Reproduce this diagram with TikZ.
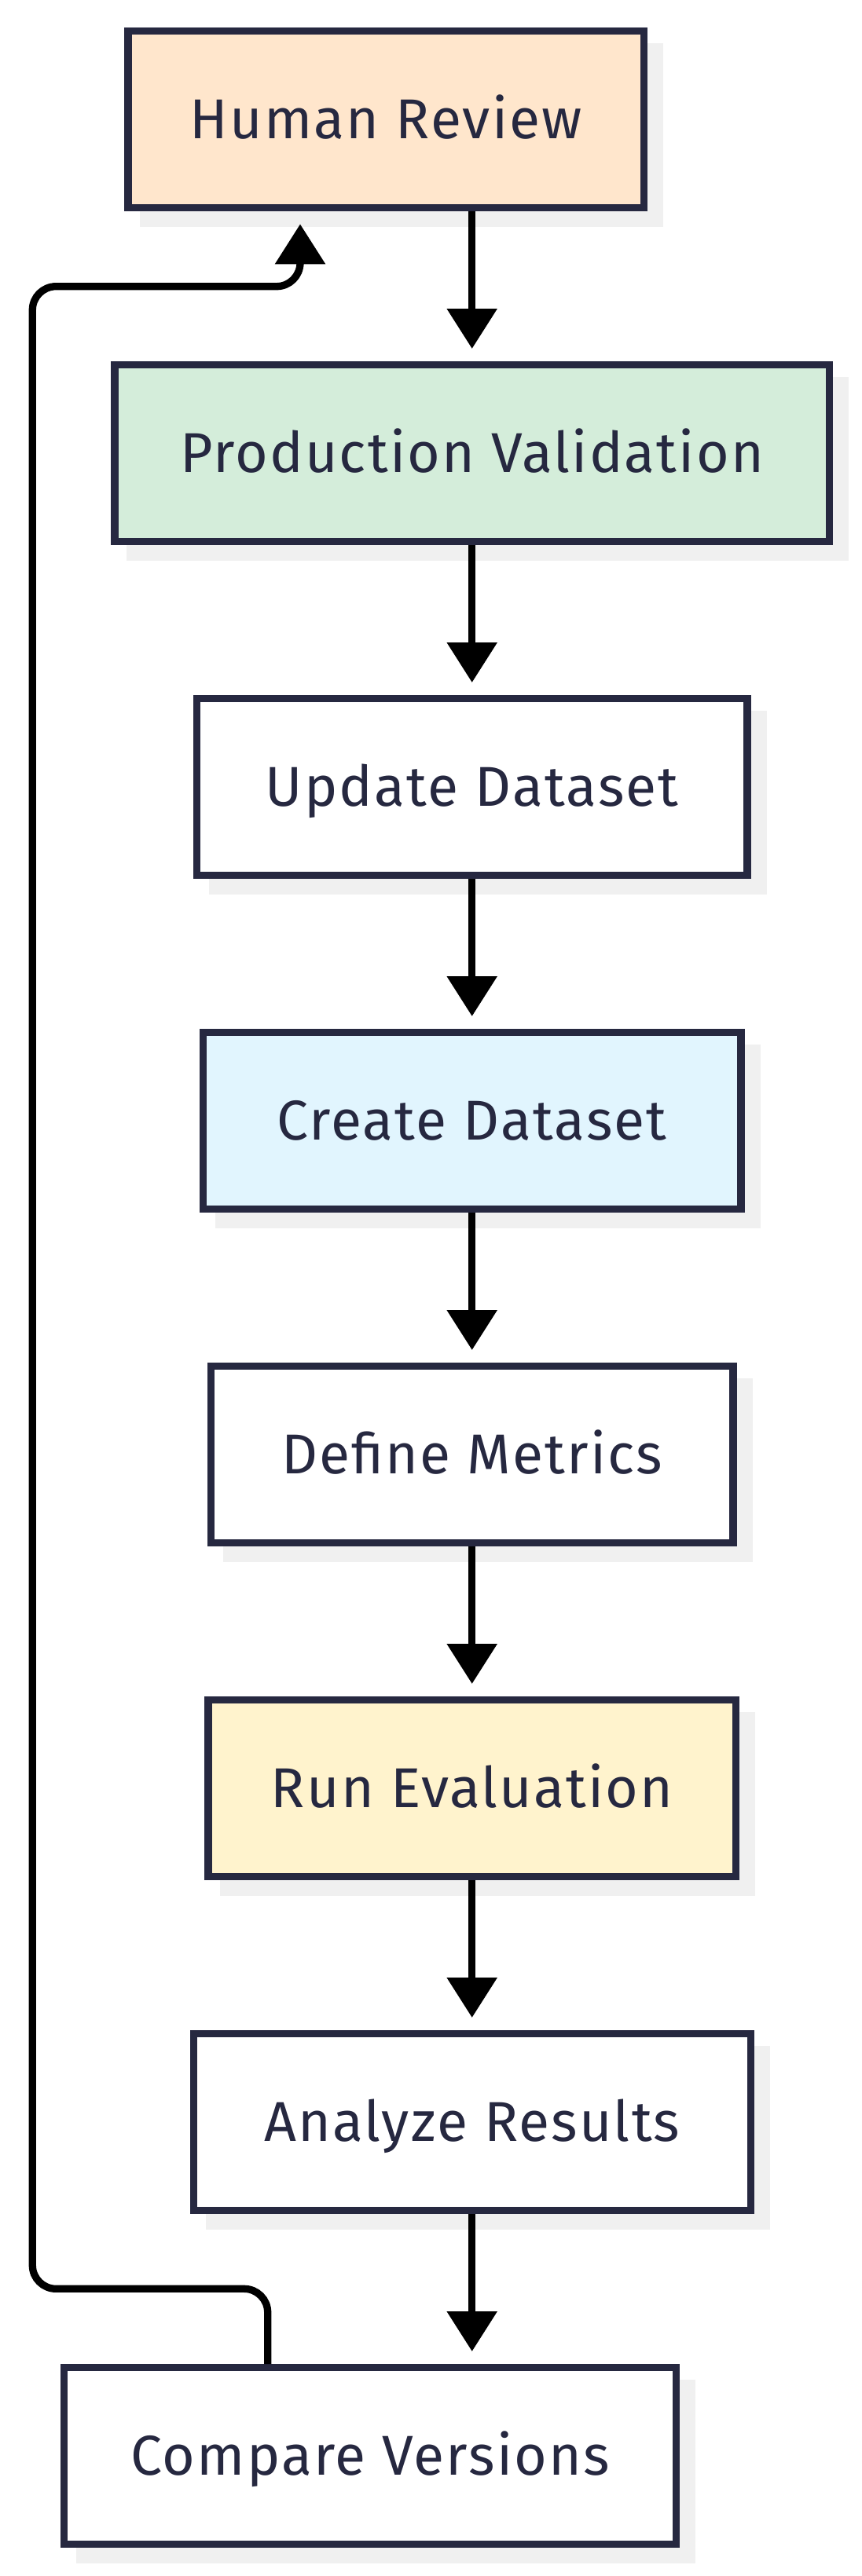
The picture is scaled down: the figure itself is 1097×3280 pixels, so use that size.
\documentclass[tikz,border=0pt]{standalone}
\usepackage{fontspec}
\setmainfont[LetterSpace=3]{Fira Sans}
\usetikzlibrary{arrows.meta,backgrounds}
\definecolor{ink}{HTML}{262840}
\definecolor{shadowgray}{HTML}{F0F0F0}
\definecolor{peach}{HTML}{FFE6CC}
\definecolor{mint}{HTML}{D4EDDA}
\definecolor{sky}{HTML}{E1F5FE}
\definecolor{cream}{HTML}{FFF3CD}
\tikzset{
  stepbox/.style={draw=ink, line width=9.3pt, fill=white, rectangle, inner sep=0pt,
    minimum height=225pt, text=ink, font=\fontsize{71.5}{80}\selectfont,
    text height=49.3pt, text depth=0pt},
  flow/.style={draw=black, line width=9.3pt, -{Triangle[length=51pt,width=62pt]}},
}
\begin{document}
\begin{tikzpicture}[x=1pt,y=-1pt]
\useasboundingbox (0,0) rectangle (1097,3280);
\node[stepbox, fill=peach, minimum width=656.7pt] (hr) at (491.3,152.15) {Human Review};
\node[stepbox, fill=mint,  minimum width=909.3pt] (pv) at (600.7,577.15) {Production Validation};
\node[stepbox, minimum width=700.8pt] (ud) at (600.7,1002.15) {Update Dataset};
\node[stepbox, fill=sky, minimum width=684.7pt] (cd) at (600.7,1427.15) {Create Dataset};
\node[stepbox, minimum width=664.5pt] (dm) at (600.7,1852.15) {Define Metrics};
\node[stepbox, fill=cream, minimum width=671.5pt] (re) at (600.7,2277.15) {Run Evaluation};
\node[stepbox, minimum width=709.1pt] (ar) at (600.7,2702.15) {Analyze Results};
\node[stepbox, minimum width=779pt] (cv) at (470.9,3127.15) {Compare Versions};
\begin{scope}[on background layer]
  \fill[white] (0,0) rectangle (1097,3280);
  \foreach \n in {hr,pv,ud,cd,dm,re,ar,cv}
    \fill[shadowgray] ([xshift=20pt,yshift=-20pt]\n.north west) rectangle ([xshift=20pt,yshift=-20pt]\n.south east);
\end{scope}
\draw[flow] (hr.south -| pv.north) -- ([yshift=16pt]pv.north);
\draw[flow] (pv.south) -- ([yshift=16pt]ud.north);
\draw[flow] (ud.south) -- ([yshift=16pt]cd.north);
\draw[flow] (cd.south) -- ([yshift=16pt]dm.north);
\draw[flow] (dm.south) -- ([yshift=16pt]re.north);
\draw[flow] (re.south) -- ([yshift=16pt]ar.north);
\draw[flow] (ar.south) -- ([yshift=16pt]cv.north -| ar.south);
\coordinate (lpa) at (41.3,2914.3);
\coordinate (lpb) at (382,364.7);
\draw[flow, rounded corners=30pt] ([xshift=-130.2pt]cv.north) |- (lpa) |- (lpb) -- ([xshift=-109.3pt,yshift=-16pt]hr.south);
\end{tikzpicture}
\end{document}
